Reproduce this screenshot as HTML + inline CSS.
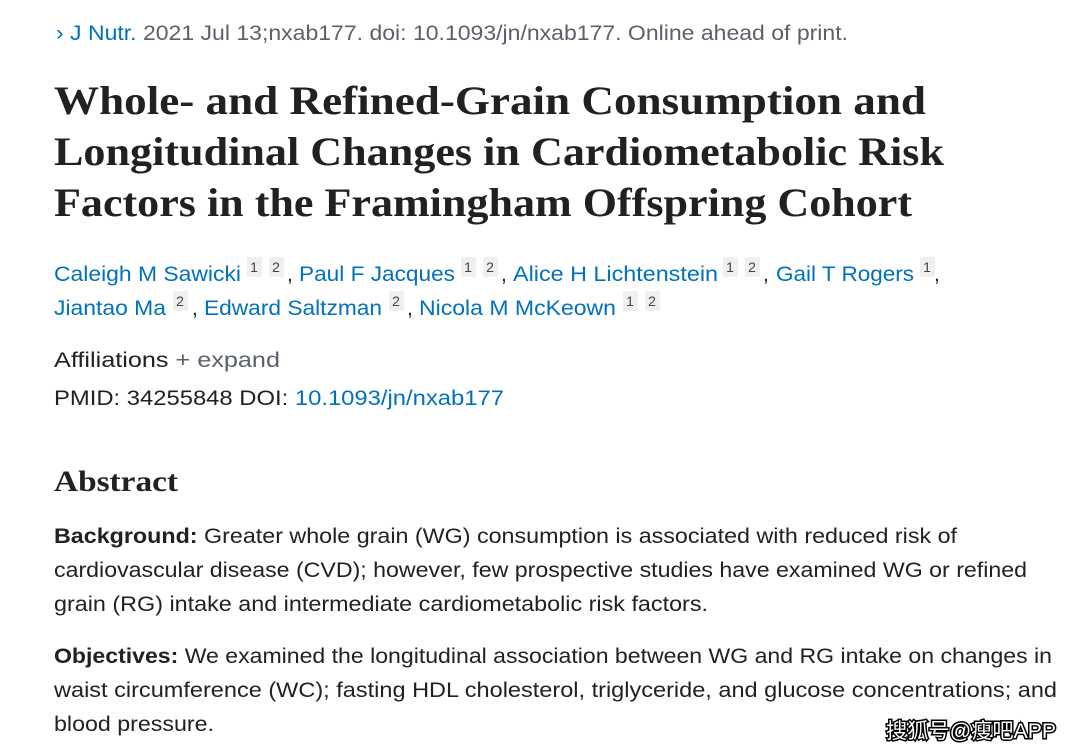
<!DOCTYPE html>
<html><head><meta charset="utf-8"><style>
html,body{margin:0;padding:0;background:#fff;}
svg{display:block}
.s{font-family:"Liberation Sans",sans-serif}
.t{font-family:"Liberation Serif",serif;font-weight:bold;fill:#212121}
.b{fill:#0071bc}.g{fill:#5b616b}.k{fill:#212121}
.sp{font-size:14px;fill:#444;font-family:"Liberation Sans",sans-serif}
</style></head><body>
<svg width="1080" height="753" viewBox="0 0 1080 753" xmlns="http://www.w3.org/2000/svg">
<rect width="1080" height="753" fill="#fff"/>
<text class="s" x="56" y="40" font-size="21" textLength="792" lengthAdjust="spacingAndGlyphs"><tspan class="b">›  J Nutr.</tspan><tspan class="g"> 2021 Jul 13;nxab177. doi: 10.1093/jn/nxab177. Online ahead of print.</tspan></text>
<text class="t" x="54" y="114" font-size="40" textLength="872" lengthAdjust="spacingAndGlyphs">Whole- and Refined-Grain Consumption and</text>
<text class="t" x="54" y="165" font-size="40" textLength="890" lengthAdjust="spacingAndGlyphs">Longitudinal Changes in Cardiometabolic Risk</text>
<text class="t" x="54" y="216" font-size="40" textLength="858" lengthAdjust="spacingAndGlyphs">Factors in the Framingham Offspring Cohort</text>
<g fill="#efefef"><rect x="247" y="257" width="15" height="20" rx="2"/><rect x="269" y="257" width="15" height="20" rx="2"/><rect x="461" y="257" width="15" height="20" rx="2"/><rect x="483" y="257" width="15" height="20" rx="2"/><rect x="723" y="257" width="15" height="20" rx="2"/><rect x="745" y="257" width="15" height="20" rx="2"/><rect x="920" y="257" width="15" height="20" rx="2"/><rect x="173" y="291" width="15" height="20" rx="2"/><rect x="389" y="291" width="15" height="20" rx="2"/><rect x="623" y="291" width="15" height="20" rx="2"/><rect x="645" y="291" width="15" height="20" rx="2"/></g>
<g class="sp" text-anchor="middle"><text x="254" y="272">1</text><text x="276" y="272">2</text><text x="468" y="272">1</text><text x="490" y="272">2</text><text x="730" y="272">1</text><text x="752" y="272">2</text><text x="927" y="272">1</text><text x="180" y="306">2</text><text x="396" y="306">2</text><text x="630" y="306">1</text><text x="652" y="306">2</text></g>
<g class="s" font-size="21">
<text class="b" x="54" y="281" textLength="187" lengthAdjust="spacingAndGlyphs">Caleigh M Sawicki</text>
<text class="k" x="287" y="281">,</text><text class="b" x="299" y="281" textLength="156" lengthAdjust="spacingAndGlyphs">Paul F Jacques</text>
<text class="k" x="501" y="281">,</text><text class="b" x="513" y="281" textLength="205" lengthAdjust="spacingAndGlyphs">Alice H Lichtenstein</text>
<text class="k" x="763" y="281">,</text><text class="b" x="776" y="281" textLength="138" lengthAdjust="spacingAndGlyphs">Gail T Rogers</text>
<text class="k" x="934" y="281">,</text>
<text class="b" x="54" y="315" textLength="112" lengthAdjust="spacingAndGlyphs">Jiantao Ma</text>
<text class="k" x="192" y="315">,</text><text class="b" x="204" y="315" textLength="178" lengthAdjust="spacingAndGlyphs">Edward Saltzman</text>
<text class="k" x="407" y="315">,</text><text class="b" x="419" y="315" textLength="197" lengthAdjust="spacingAndGlyphs">Nicola M McKeown</text>
</g>
<text class="s k" x="54" y="367" font-size="21" textLength="226" lengthAdjust="spacingAndGlyphs">Affiliations  <tspan class="g">+ expand</tspan></text>
<text class="s k" x="54" y="405" font-size="21" textLength="450" lengthAdjust="spacingAndGlyphs">PMID: 34255848    DOI: <tspan class="b">10.1093/jn/nxab177</tspan></text>
<text class="t" x="54" y="491" font-size="30" textLength="124" lengthAdjust="spacingAndGlyphs">Abstract</text>
<g class="s k" font-size="21">
<text x="54" y="543" textLength="903" lengthAdjust="spacingAndGlyphs"><tspan font-weight="bold">Background:</tspan> Greater whole grain (WG) consumption is associated with reduced risk of</text>
<text x="54" y="577" textLength="973" lengthAdjust="spacingAndGlyphs">cardiovascular disease (CVD); however, few prospective studies have examined WG or refined</text>
<text x="54" y="611" textLength="654" lengthAdjust="spacingAndGlyphs">grain (RG) intake and intermediate cardiometabolic risk factors.</text>
<text x="54" y="663" textLength="998" lengthAdjust="spacingAndGlyphs"><tspan font-weight="bold">Objectives:</tspan> We examined the longitudinal association between WG and RG intake on changes in</text>
<text x="54" y="697" textLength="1003" lengthAdjust="spacingAndGlyphs">waist circumference (WC); fasting HDL cholesterol, triglyceride, and glucose concentrations; and</text>
<text x="54" y="731" textLength="160" lengthAdjust="spacingAndGlyphs">blood pressure.</text>
</g>
<text x="886" y="738" font-family="'Liberation Sans','Noto Sans CJK SC',sans-serif" font-size="21" fill="#fff" stroke="#000" stroke-width="3" paint-order="stroke" textLength="170" lengthAdjust="spacingAndGlyphs">搜狐号@瘦吧APP</text>
</svg>
</body></html>
